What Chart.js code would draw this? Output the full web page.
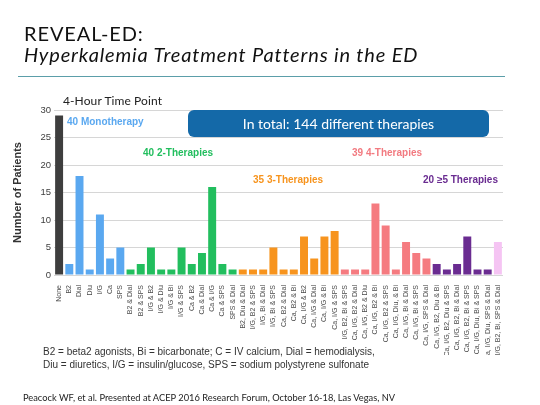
<!DOCTYPE html>
<html><head><meta charset="utf-8">
<script src="https://cdn.jsdelivr.net/npm/chart.js@4.4.1/dist/chart.umd.min.js"></script>
<style>
html,body{margin:0;padding:0;background:#fff;}
#wrap{position:relative;width:540px;height:405px;overflow:hidden;background:#fff;}
#c{position:absolute;left:0;top:0;}
.t{position:absolute;white-space:nowrap;line-height:1;}
#title1{left:24px;top:21px;font:20px Lato,sans-serif;color:#111;letter-spacing:0.9px;}
#title2{left:24px;top:42px;font:italic 20px Lato,sans-serif;color:#111;letter-spacing:0.85px;}
#rule{position:absolute;left:18px;top:75.5px;width:487px;height:1.5px;background:#5B9EA9;}
#tp{left:63px;top:93px;font:12px Lato,sans-serif;color:#222;letter-spacing:0.1px;}
#box{position:absolute;left:188px;top:110px;width:301px;height:27px;border-radius:6px;background:#1469A8;color:#fff;font:14px Lato,sans-serif;text-align:center;line-height:27px;}
.ann{font:bold 10px "Liberation Sans",Arial,sans-serif;}
#a1{left:67px;top:116px;color:#5AA8F0;}
#a2{left:143px;top:146.5px;color:#22BE5E;}
#a3{left:253px;top:174px;color:#F7941E;}
#a4{left:352px;top:146.5px;color:#F27A80;}
#a5{left:423px;top:174px;color:#6A2C91;}
.fn{font:10px "Liberation Sans",Arial,sans-serif;color:#333;left:43px;}
#f1{top:346px;}
#f2{top:359px;}
#cite{left:23px;top:392px;font:9.3px Lato,sans-serif;color:#222;}
</style></head><body>
<div id="wrap">
<canvas id="c" width="540" height="405"></canvas>
<div class="t" id="title1">REVEAL-ED:</div>
<div class="t" id="title2">Hyperkalemia Treatment Patterns in the ED</div>
<div id="rule"></div>
<div class="t" id="tp">4-Hour Time Point</div>
<div id="box">In total: 144 different therapies</div>
<div class="t ann" id="a1">40 Monotherapy</div>
<div class="t ann" id="a2">40 2-Therapies</div>
<div class="t ann" id="a3">35 3-Therapies</div>
<div class="t ann" id="a4">39 4-Therapies</div>
<div class="t ann" id="a5">20 ≥5 Therapies</div>
<div class="t fn" id="f1">B2 = beta2 agonists, Bi = bicarbonate; C = IV calcium, Dial = hemodialysis,</div>
<div class="t fn" id="f2">Diu = diuretics, I/G = insulin/glucose, SPS = sodium polystyrene sulfonate</div>
<div class="t" id="cite">Peacock WF, et al. Presented at ACEP 2016 Research Forum, October 16-18, Las Vegas, NV</div>
</div>
<script>
const categories = [
  "None",
  "B2","Dial","Diu","I/G","Ca","SPS",
  "B2 & Dial","B2 & SPS","I/G & B2","I/G & Diu","I/G & Bi","I/G & SPS","Ca & B2","Ca & Dial","Ca & I/G","Ca & SPS","SPS & Dial",
  "B2, Diu & Dial","I/G, B2 & SPS","I/G, Bi & Dial","I/G, Bi & SPS","Ca, B2 & Dial","Ca, B2 & Bi","Ca, I/G & B2","Ca, I/G & Dial","Ca, I/G & Bi","Ca, I/G & SPS",
  "I/G, B2, Bi & SPS","Ca, I/G, B2 & Dial","Ca, I/G, B2 & Diu","Ca, I/G, B2 & Bi","Ca, I/G, B2 & SPS","Ca, I/G, Diu, & Bi","Ca, I/G, Bi & Dial","Ca, I/G, Bi & SPS","Ca, I/G, SPS & Dial",
  "Ca, I/G, B2, Diu & Bi","Ca, I/G, B2, Diu & SPS","Ca, I/G, B2, Bi & Dial","Ca, I/G, B2, Bi & SPS","Ca, I/G, Diu, Bi & SPS","Ca, I/G, Diu, SPS & Dial",
  "Ca, I/G, B2, Bi, SPS & Dial"
];
const patients = [
  29,
  2,18,1,11,3,5,
  1,2,5,1,1,5,2,4,16,2,1,
  1,1,1,5,1,1,7,3,7,8,
  1,1,1,13,9,1,6,4,3,
  2,1,2,7,1,1,
  6
];
const groups = [
  "none",
  "mono","mono","mono","mono","mono","mono",
  "two","two","two","two","two","two","two","two","two","two","two",
  "three","three","three","three","three","three","three","three","three","three",
  "four","four","four","four","four","four","four","four","four",
  "five","five","five","five","five","five",
  "six"
];
const yTicks = [0,5,10,15,20,25,30];

const groupColors = {none:"#3E3E3E",mono:"#5AA8F0",two:"#22BE5E",three:"#F7941E",four:"#F57B80",five:"#6A2C91",six:"#F5C4F3"};

new Chart(document.getElementById("c"), {
  type: "bar",
  data: {
    labels: categories,
    datasets: [{
      data: patients,
      backgroundColor: groups.map(g => groupColors[g]),
      borderWidth: 0,
      categoryPercentage: 0.78,
      barPercentage: 1
    }]
  },
  options: {
    responsive: false,
    animation: false,
    devicePixelRatio: 1,
    layout: {padding: {left: 11, right: 37, top: 110, bottom: 50}},
    plugins: {legend: {display: false}, tooltip: {enabled: false}},
    scales: {
      x: {
        grid: {display: false},
        border: {display: false},
        ticks: {autoSkip: false, maxRotation: 90, minRotation: 90, padding: 2,
          font: {size: 7, family: "'Liberation Sans', Arial, sans-serif"}, color: "#4a4a4a"},
        afterFit(s) { s.height = 80; }
      },
      y: {
        min: 0, max: 30,
        afterBuildTicks(s) { s.ticks = yTicks.map(v => ({value: v})); },
        ticks: {padding: 3, font: {size: 9.5, family: "'Liberation Sans', Arial, sans-serif"}, color: "#404040"},
        grid: {color: "#D6D6D6", drawTicks: false},
        border: {display: false},
        title: {display: true, text: "Number of Patients", color: "#333", padding: 0,
          font: {size: 11, weight: "bold", family: "'Liberation Sans', Arial, sans-serif"}},
        afterFit(s) { s.width = 43; }
      }
    }
  }
});
</script>
</body></html>
